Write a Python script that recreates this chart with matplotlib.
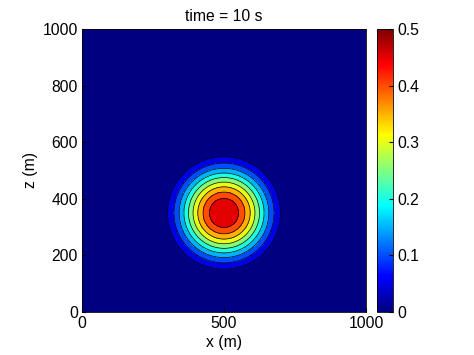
import numpy as np
import matplotlib
matplotlib.use("Agg")
import matplotlib.pyplot as plt
from matplotlib.colors import LinearSegmentedColormap, Normalize
import matplotlib.colorbar as mcolorbar

# Field parameters (cosine thermal bubble)
x_range = [0, 1000]
z_range = [0, 1000]
center_x = 500.0
center_z = 350.0
bubble_radius = 250.0
amplitude = 0.5
levels = [0, 0.05, 0.1, 0.15, 0.2, 0.25, 0.3, 0.35, 0.4, 0.45, 0.5]
x_ticks = [0, 500, 1000]
z_ticks = [0, 200, 400, 600, 800, 1000]
cbar_ticks = [0, 0.1, 0.2, 0.3, 0.4, 0.5]
cbar_ticklabels = ['0', '0.1', '0.2', '0.3', '0.4', '0.5']
title = "time = 10 s"

plt.rcParams['font.family'] = ['Liberation Sans', 'DejaVu Sans']

# MATLAB-style jet colormap
s = np.linspace(0, 1, 256)
jet_rgb = np.stack([np.clip(1.5 - np.abs(4 * s - 3), 0, 1),
                    np.clip(1.5 - np.abs(4 * s - 2), 0, 1),
                    np.clip(1.5 - np.abs(4 * s - 1), 0, 1)], axis=1)
cmap = LinearSegmentedColormap.from_list('mjet', jet_rgb, N=256)

x = np.linspace(x_range[0], x_range[1], 501)
z = np.linspace(z_range[0], z_range[1], 501)
X, Z = np.meshgrid(x, z)
r = np.sqrt((X - center_x) ** 2 + (Z - center_z) ** 2)
theta = np.where(r <= bubble_radius,
                 amplitude / 2 * (1 + np.cos(np.pi * r / bubble_radius)), 0.0)

fig = plt.figure(figsize=(4.74, 3.55), dpi=100)
ax = fig.add_axes([82/474, 43/355, 284/474, 283/355])
cax = fig.add_axes([377/474, 43/355, 16/474, 283/355])

band_colors = [cmap(l / levels[-1]) for l in levels[:-1]]
theta_plot = np.clip(theta, 0, 0.4999)
ax.contourf(X, Z, theta_plot, levels=levels, colors=band_colors)
ax.contour(X, Z, theta_plot, levels=levels[1:-1], colors='k', linewidths=0.5)

fs = 11.3
ax.set_xlim(x_range)
ax.set_ylim(z_range)
ax.set_xticks(x_ticks)
ax.set_yticks(z_ticks)
ax.tick_params(direction='in', labelsize=fs, length=3, pad=3)
ax.set_xlabel('x (m)', fontsize=fs, labelpad=3)
ax.set_ylabel('z (m)', fontsize=fs, labelpad=3)
ax.set_title(title, fontsize=11.3, pad=6)
for sp in ax.spines.values():
    sp.set_linewidth(0.6)

norm = Normalize(vmin=0, vmax=0.5)
cb = mcolorbar.ColorbarBase(cax, cmap=cmap, norm=norm, ticks=cbar_ticks)
cb.set_ticklabels(cbar_ticklabels)
cax.tick_params(direction='in', labelsize=fs, length=3, pad=3)
cb.outline.set_linewidth(0.6)

fig.savefig('out.png', dpi=100)
